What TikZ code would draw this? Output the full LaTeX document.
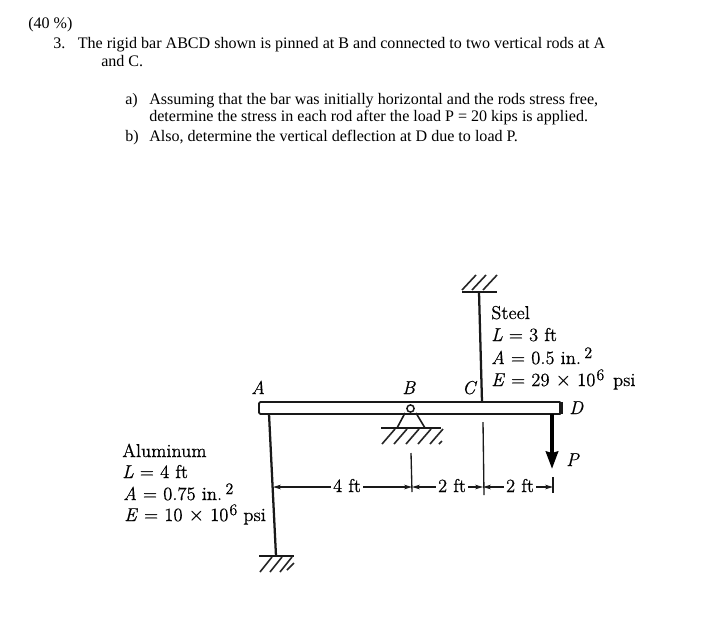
\documentclass[tikz,border=0pt]{standalone}
\usepackage{fontspec}
\newfontfamily\txt{Liberation Serif}
\newfontfamily\figf[FakeBold=0.5,ItalicFeatures={FakeBold=0.5}]{Latin Modern Roman}
\usetikzlibrary{arrows.meta}
\newcommand{\sups}[2][0.8pt]{\hspace{#1}\raisebox{4.5pt}{\fontsize{12}{12}\selectfont #2}}
\newcommand{\tms}{{\fontsize{16}{16}\selectfont ×}}
\newcommand{\eqs}{\hspace{1pt} = \hspace{1pt}}
\tikzset{
  px/.style={x=0.75pt,y=-0.75pt},
  doc/.style={anchor=base west,inner sep=0pt,font=\txt\fontsize{12.05}{14}\selectfont},
  lab/.style={anchor=base west,inner sep=0pt,font=\figf\fontsize{14}{16}\selectfont},
  rod/.style={line width=1.7pt,black!90},
  thin line/.style={line width=1pt,black!90},
  hatch/.style={line width=1.2pt,black!85},
  support/.style={line width=1.5pt,black!90},
  dimarrow/.style={line width=0.8pt,black!90,-{Stealth[length=6pt,width=3.5pt]}}
}
\begin{document}
\begin{tikzpicture}[px]
\useasboundingbox (0,0) rectangle (716,629);
\fill[white] (0,0) rectangle (716,629);
% problem text
\node[doc] (t0) at (28,28) {(40 \%)};
\node[doc] (n3) at (53,48) {3.};
\node[doc] (t1) at (77.5,48) {The rigid bar ABCD shown is pinned at B and connected to two vertical rods at A};
\node[doc] (t2) at (101,66) {and C.};
\node[doc] (na) at (125,104) {a)};
\node[doc] (t3) at (149,104) {Assuming that the bar was initially horizontal and the rods stress free,};
\node[doc] (t4) at (149,121) {determine the stress in each rod after the load P = 20 kips is applied.};
\node[doc] (nb) at (125,141) {b)};
\node[doc] (t5) at (149,141) {Also, determine the vertical deflection at D due to load P.};
% bar
\draw[line width=1.4pt,black!90,rounded corners=1pt,fill=white] (259,402) rectangle (561,414);
\draw[line width=2.6pt,black!90] (561,402) -- (561,414);
% named points
\coordinate (ctop) at (479,292);
\coordinate (cbot) at (482,402);
\coordinate (atop) at (269,414);
\coordinate (abot) at (276,556);
\coordinate (ptop) at (552,414);
\coordinate (ptip) at (552,469);
\coordinate (d1) at (273,487);
\coordinate (d2) at (412,487);
\coordinate (d3) at (483,487);
\coordinate (d4) at (553,487);
% rods
\draw[rod] (ctop) -- (cbot);
\draw[rod] (atop) -- (abot);
% top support
\draw[support] (462,292) -- (497,292);
\foreach \x in {462,472,483}{\draw[hatch] (\x,290) -- (\x+14,275);}
% bottom support
\draw[support] (259,556) -- (294,556);
\foreach \x in {260,270,280}{\draw[hatch] (\x,572) -- (\x+12,557);}
\draw[hatch] (287,570) -- (294,563);
% pin support
\draw[support] (381,428) -- (441,428);
\draw[line width=1.2pt,black!90] (397,428) -- (405,413) (416,413) -- (425,428);
\draw[line width=1.1pt,black!90] (410.5,408.5) circle (3.6);
\foreach \x in {382,394,406,418,430}{\draw[hatch] (\x,444) -- (\x+13,429);}
\draw[hatch] (439,444) -- (442,441);
% witness lines
\draw[thin line] (483,422) -- (484,495);
\draw[thin line] (411,453) -- (412,492);
\draw[thin line] (553,477) -- (553,493);
% load
\draw[line width=3pt,black,-{Stealth[length=13pt,width=9pt,inset=1pt]}] (ptop) -- (ptip);
% labels
\node[lab] (A) at (251,394) {\textit{A}};
\node[lab] (B) at (402,394) {\textit{B}};
\node[lab] (C) at (462,394) {\textit{C}};
\node[lab] (D) at (569,414) {\textit{D}};
\node[lab] (P) at (566,466) {\textit{P}};
\node[lab] (s0) at (491,319) {Steel};
\node[lab] (s1) at (491,341) {\textit{L} = 3 ft};
\node[lab] (s2) at (491,364) {\textit{A} = 0.5 in.\sups[2.5pt]{2}};
\node[lab] (s3) at (491,386) {\textit{E} = 29 \tms{} 10\sups{6}\hspace{2pt} psi};
\node[lab] (a0) at (122,457) {Aluminum};
\node[lab] (a1) at (122,478) {\textit{L} = 4 ft};
\node[lab] (a2) at (123,500) {\textit{A} = 0.75 in.\sups[2.5pt]{2}};
\node[lab] (a3) at (124,521) {\textit{E} = 10 \tms{} 10\sups{6} psi};
% dimensions
\node[lab,anchor=base,inner xsep=1.5pt] (f1) at (347,492) {4 ft};
\node[lab,anchor=base,inner xsep=1.5pt] (f2) at (452,492) {2 ft};
\node[lab,anchor=base,inner xsep=1.5pt] (f3) at (520,492) {2 ft};
\draw[dimarrow] (f1.west |- d1) -- (d1);
\draw[dimarrow] (f1.east |- d2) -- (d2);
\draw[dimarrow] (f2.west |- d2) -- (d2);
\draw[dimarrow] (f2.east |- d3) -- (d3);
\draw[dimarrow] (f3.west |- d3) -- (d3);
\draw[dimarrow] (f3.east |- d4) -- (d4);
\end{tikzpicture}
\end{document}
